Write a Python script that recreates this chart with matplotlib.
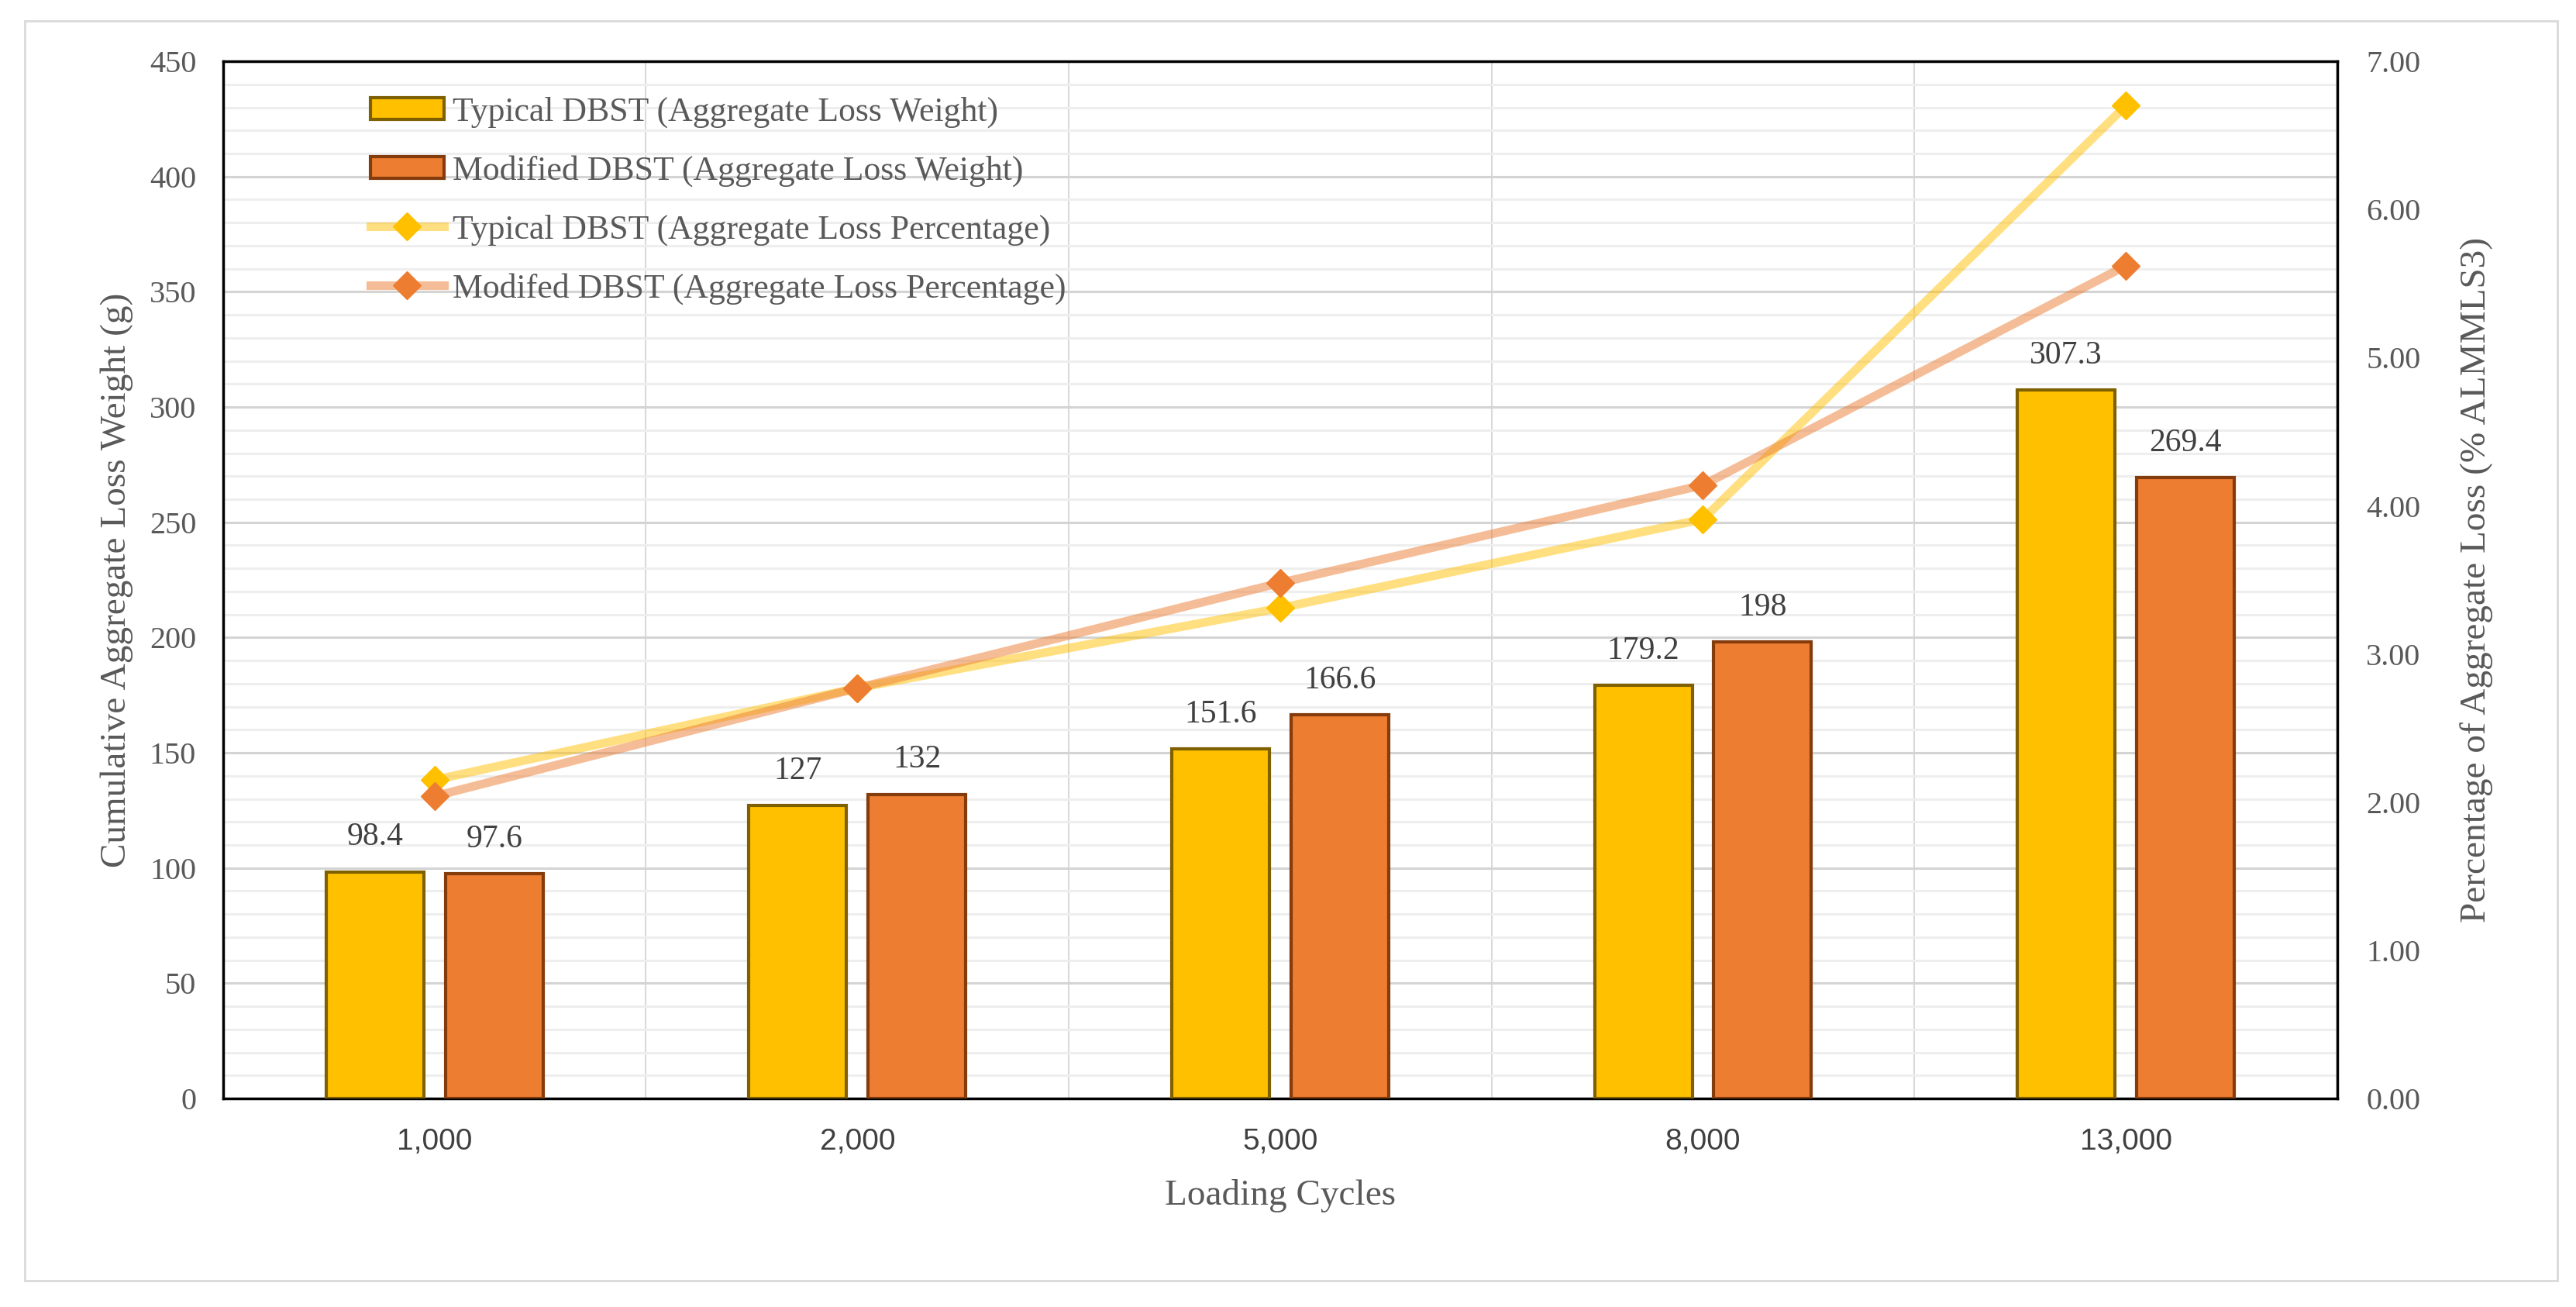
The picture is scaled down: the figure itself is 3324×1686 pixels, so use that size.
import numpy as np
import matplotlib
matplotlib.use('Agg')
import matplotlib.pyplot as plt
from matplotlib.patches import Rectangle
from matplotlib.ticker import MultipleLocator, FormatStrFormatter

# data
cycles = ['1,000', '2,000', '5,000', '8,000', '13,000']
typical_weight = [98.4, 127, 151.6, 179.2, 307.3]
modified_weight = [97.6, 132, 166.6, 198, 269.4]
typical_pct = [2.15, 2.77, 3.31, 3.91, 6.70]
modified_pct = [2.04, 2.77, 3.48, 4.14, 5.62]

serif = 'Liberation Serif'
grey = '#595959'
dark = '#404040'

fig = plt.figure(figsize=(33.24, 16.86), dpi=100)
ax = fig.add_axes([0.0866, 0.1595, 0.8207, 0.7936])
ax2 = ax.twinx()

# outer light grey frame
fig.patches.append(Rectangle((0.0096, 0.0202), 0.9832, 0.9638, transform=fig.transFigure,
                             fill=False, edgecolor='#D9D9D9', linewidth=2))

x = np.arange(len(cycles))
w = 0.231
off = 0.141

b1 = ax.bar(x - off, typical_weight, w, color='#FFC000', edgecolor='#7F6000', linewidth=3,
            label='Typical DBST (Aggregate Loss Weight)', zorder=3)
b2 = ax.bar(x + off, modified_weight, w, color='#ED7D31', edgecolor='#843C0C', linewidth=3,
            label='Modified DBST (Aggregate Loss Weight)', zorder=3)

# value labels above bars
for bars, vals in [(b1, typical_weight), (b2, modified_weight)]:
    for bar, v in zip(bars, vals):
        ax.annotate(f'{v:g}', (bar.get_x() + bar.get_width() / 2, v), xytext=(0, 32),
                    textcoords='offset points', ha='center', va='center',
                    fontsize=30, family=serif, color=dark)

# percentage lines on the right axis
l1, = ax2.plot(x, typical_pct, color=(1.0, 0.753, 0.0, 0.5), linewidth=8,
               marker='D', markersize=18, markerfacecolor='#FFC000', markeredgecolor='#FFC000',
               label='Typical DBST (Aggregate Loss Percentage)')
l2, = ax2.plot(x, modified_pct, color=(0.929, 0.49, 0.192, 0.5), linewidth=8,
               marker='D', markersize=18, markerfacecolor='#ED7D31', markeredgecolor='#ED7D31',
               label='Modifed DBST (Aggregate Loss Percentage)')

# axes ranges and ticks
ax.set_xlim(-0.5, len(cycles) - 0.5)
ax.set_ylim(0, 450)
ax2.set_ylim(0, 7)
ax.yaxis.set_major_locator(MultipleLocator(50))
ax.yaxis.set_minor_locator(MultipleLocator(10))
ax2.yaxis.set_major_locator(MultipleLocator(1))
ax2.yaxis.set_major_formatter(FormatStrFormatter('%.2f'))
ax.set_xticks(x)
ax.set_xticklabels(cycles, family='Liberation Sans', fontsize=28, color=dark)

ax.tick_params(axis='y', which='both', length=0, pad=25, labelsize=29, labelcolor=grey)
ax.tick_params(axis='x', length=0, pad=27)
ax2.tick_params(axis='y', length=0, pad=27, labelsize=29, labelcolor=grey)
for lab in ax.get_yticklabels() + ax2.get_yticklabels():
    lab.set_family(serif)

# gridlines
ax.set_axisbelow(True)
ax.grid(axis='y', which='major', color='#D4D4D4', linewidth=2.2)
ax.grid(axis='y', which='minor', color='#EEEEEE', linewidth=2.2)
for i in range(1, len(cycles)):
    ax.axvline(i - 0.5, color='#D9D9D9', linewidth=1.5, zorder=0)

for s in ax.spines.values():
    s.set_color('black')
    s.set_linewidth(2.5)
for s in ax2.spines.values():
    s.set_visible(False)

# axis titles
ax.set_xlabel('Loading Cycles', fontsize=34, family=serif, color=grey)
ax.xaxis.set_label_coords(0.5, -0.078)
ax.set_ylabel('Cumulative Aggregate Loss Weight (g)', fontsize=34, family=serif, color=grey)
ax.yaxis.set_label_coords(-0.0425, 0.5)
ax2.set_ylabel('Percentage of Aggregate Loss (% ALMMLS3)', fontsize=34, family=serif, color=grey,
               rotation=90)
ax2.yaxis.set_label_coords(1.058, 0.5)

# legend
ax2.legend(handles=[b1, b2, l1, l2], loc='upper left', bbox_to_anchor=(0.0697, 0.966),
           frameon=False, prop={'family': serif, 'size': 31.5}, labelcolor=grey,
           handlelength=2.17, handleheight=0.62, handletextpad=0.25, labelspacing=0.8,
           borderpad=0, borderaxespad=0)

plt.savefig('out.png', dpi=100)
